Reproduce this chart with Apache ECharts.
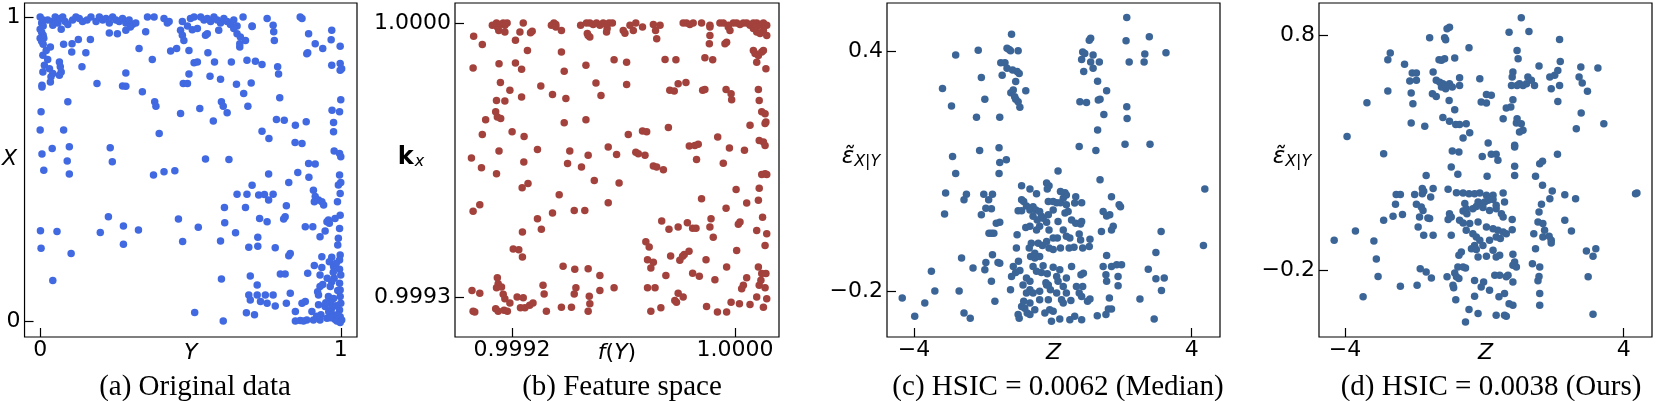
<!DOCTYPE html>
<html>
<head>
<meta charset="utf-8">
<title>HSIC scatter</title>
<script src="https://cdn.jsdelivr.net/npm/echarts@6/dist/echarts.min.js"></script>
<style>
  html, body { margin: 0; padding: 0; background: #fff; }
</style>
</head>
<body>
<div id="main" style="width: 1658px; height: 401px;"></div>
<script type="text/javascript">
// (a) original data: [Y, X]
var origData = [
  [0.0,1.0],[0.01,0.99],[0.005,0.98],[0.01,0.97],[0.0,0.96],[0.005,0.95],[0.01,0.94],[0.0,0.93],[0.012,0.93],[0.005,0.92],[0.01,0.91],
  [0.025,0.99],[0.042,0.985],[0.05,1.0],[0.059,0.98],[0.067,0.995],[0.075,1.0],[0.083,0.985],[0.092,0.975],[0.108,0.99],[0.119,1.0],
  [0.13,0.995],[0.141,0.985],[0.156,0.99],[0.169,1.0],[0.186,0.985],[0.197,1.0],[0.208,0.99],[0.219,0.995],[0.23,0.98],[0.241,1.0],
  [0.252,0.99],[0.263,0.985],[0.274,0.995],[0.285,0.98],[0.296,0.99],[0.307,0.975],[0.318,0.98],[0.357,1.0],[0.379,1.0],[0.412,0.995],
  [0.429,0.985],[0.473,0.985],[0.49,0.97],[0.5,0.995],[0.512,1.0],[0.534,1.0],[0.545,0.99],[0.556,0.995],[0.567,0.985],[0.578,1.0],
  [0.589,0.99],[0.6,0.98],[0.611,0.995],[0.622,0.985],[0.633,0.975],[0.644,0.99],[0.655,0.97],[0.675,1.0],[0.705,0.97],[0.755,0.995],
  [0.865,1.0],[0.871,0.995],
  [0.042,0.973],[0.07,0.96],[0.23,0.947],[0.257,0.945],[0.285,0.956],[0.3,0.967],[0.351,0.951],[0.423,0.98],[0.467,0.956],[0.473,0.94],
  [0.478,0.923],[0.506,0.958],[0.523,0.962],[0.55,0.94],[0.556,0.945],[0.594,0.956],[0.644,0.962],[0.655,0.945],[0.666,0.934],[0.683,0.923],
  [0.775,0.973],[0.777,0.951],[0.779,0.923],[0.893,0.945],[0.97,0.956],[0.968,0.925],[0.998,0.904],[0.915,0.912],[0.94,0.896],[0.887,0.879],
  [0.705,0.969],
  [0.009,0.874],[0.02,0.89],[0.034,0.901],[0.078,0.91],[0.106,0.912],[0.127,0.926],[0.167,0.926],[0.105,0.885],[0.152,0.882],[0.025,0.86],
  [0.014,0.841],[0.009,0.819],[0.031,0.83],[0.042,0.814],[0.036,0.803],[0.064,0.852],[0.067,0.836],[0.07,0.819],[0.064,0.808],[0.034,0.786],
  [0.006,0.775],[0.006,0.77],[0.139,0.836],[0.189,0.781],[0.285,0.816],[0.274,0.773],[0.285,0.772],[0.329,0.896],[0.373,0.86],[0.434,0.888],
  [0.454,0.896],[0.495,0.89],[0.512,0.849],[0.523,0.852],[0.495,0.812],[0.476,0.781],[0.49,0.781],[0.558,0.882],[0.58,0.852],[0.565,0.805],
  [0.6,0.795],[0.636,0.852],[0.664,0.901],[0.664,0.912],[0.688,0.858],[0.716,0.854],[0.738,0.844],[0.702,0.783],[0.653,0.779],[0.677,0.748],
  [0.79,0.836],[0.793,0.812],[0.89,0.882],[0.97,0.841],[0.998,0.847],[0.998,0.825],[1.003,0.83],[0.34,0.754],[0.381,0.721],[0.385,0.706],
  [0.467,0.682],[0.531,0.699],[0.603,0.721],[0.609,0.706],[0.622,0.685],[0.576,0.658],[0.691,0.706],[0.797,0.734],[1.0,0.728],[0.971,0.693],
  [0.996,0.688],[0.786,0.663],[0.812,0.66],[0.849,0.644],[0.885,0.655],[0.976,0.653],[0.976,0.622],[0.738,0.624],[0.761,0.6],[0.848,0.587],
  [0.871,0.584],[0.978,0.559],[0.996,0.551],[1.0,0.54],[0.003,0.688],[0.092,0.721],[0.0,0.628],[0.078,0.628],[0.006,0.549],[0.04,0.567],
  [0.097,0.573],[0.09,0.526],[0.012,0.496],[0.097,0.483],[0.233,0.57],[0.24,0.524],[0.396,0.617],[0.377,0.48],[0.412,0.491],[0.448,0.494],
  [0.55,0.533],[0.628,0.531],[0.76,0.483],[0.857,0.488],[0.827,0.455],[0.894,0.473],[0.893,0.518],[0.915,0.516],[0.996,0.48],[1.0,0.455],
  [0.992,0.447],[0.705,0.446],[0.655,0.417],[0.688,0.417],[0.727,0.414],[0.746,0.416],[0.775,0.417],[0.76,0.398],[0.909,0.43],[0.915,0.409],
  [0.912,0.392],[0.926,0.398],[0.937,0.392],[0.943,0.381],[0.989,0.392],[0.998,0.419],[0.819,0.379],[0.613,0.373],[0.683,0.373],[0.815,0.343],
  [0.81,0.335],[0.73,0.337],[0.755,0.326],[0.998,0.348],[0.981,0.337],[0.959,0.332],[0.954,0.326],[0.962,0.321],[0.948,0.296],[0.996,0.304],
  [0.992,0.272],[0.931,0.277],[0.882,0.31],[0.907,0.31],[0.227,0.343],[0.46,0.335],[0.526,0.308],[0.614,0.323],[0.65,0.29],[0.001,0.297],
  [0.056,0.294],[0.2,0.291],[0.277,0.312],[0.327,0.299],[0.277,0.252],[0.474,0.261],[0.6,0.263],[0.724,0.275],[0.694,0.242],[0.724,0.246],
  [0.782,0.241],[0.003,0.239],[0.103,0.222],[0.832,0.222],[0.827,0.214],[0.937,0.211],[0.97,0.209],[0.962,0.195],[0.998,0.217],[0.996,0.2],
  [0.912,0.182],[0.937,0.176],[0.976,0.179],[0.996,0.17],[1.0,0.151],[0.978,0.14],[0.97,0.129],[0.996,0.124],[0.998,0.102],[0.965,0.113],
  [0.931,0.113],[0.923,0.096],[0.926,0.085],[0.959,0.08],[0.976,0.074],[0.967,0.06],[0.998,0.08],[1.0,0.058],[0.996,0.036],[0.97,0.042],
  [0.948,0.047],[0.926,0.053],[0.904,0.031],[0.934,0.02],[0.976,0.02],[0.998,0.014],[1.003,0.003],[0.987,0.0],[0.954,0.009],[0.931,0.003],
  [0.909,0.003],[0.887,0.003],[0.865,0.001],[0.849,0.0],[0.876,0.0],[0.998,-0.005],[0.89,0.157],[0.799,0.154],[0.815,0.154],[0.699,0.148],
  [0.722,0.118],[0.603,0.138],[0.042,0.133],[0.694,0.085],[0.722,0.085],[0.749,0.085],[0.775,0.085],[0.699,0.069],[0.733,0.064],[0.755,0.058],
  [0.782,0.049],[0.819,0.058],[0.832,0.091],[0.871,0.058],[0.882,0.064],[0.849,0.031],[0.686,0.027],[0.713,0.02],[0.514,0.028],[0.609,0.0],
  [0.931,0.151],[0.95,0.06],[0.96,0.03],[0.985,0.05],[0.99,0.1],[0.975,0.16],[0.985,0.19],[0.99,0.25],[0.94,0.12],[0.955,0.14],
  [0.98,0.005],[0.965,0.01],[0.92,0.015],[0.99,0.02]
];

// (b) feature space: [f(Y), k_x]
var featureData = [
  [0.999129,0.999994],[0.999144,1.0],[0.999156,0.999996],[0.999168,1.0],[0.999174,0.999994],[0.999182,1.0],[0.99924,1.0],[0.999341,0.999994],
  [0.99935,1.0],[0.999357,0.999996],[0.999446,0.999994],[0.999467,1.0],[0.999479,1.0],[0.999491,0.999996],[0.999503,1.0],[0.999515,0.999994],
  [0.999527,1.0],[0.999539,0.999996],[0.999548,1.0],[0.99956,1.0],[0.999623,0.999994],[0.999644,1.0],[0.999707,0.999996],[0.999731,0.999994],
  [0.999814,1.0],[0.999826,1.0],[0.999838,0.999996],[0.99985,1.0],[0.99988,1.0],[0.99991,0.999994],[0.999946,1.0],[0.999958,1.0],
  [0.999976,0.999994],[0.999994,1.0],[1.000006,1.0],[1.000018,0.999996],[1.00003,1.0],[1.000042,1.0],[1.000054,0.999994],[1.000066,1.0],
  [1.000078,1.0],[1.00009,0.999996],[1.000102,1.0],[1.000114,0.999994],
  [0.999147,0.99999],[0.999152,0.999981],[0.999174,0.999977],[0.999228,0.999977],[0.999272,0.999979],[0.999266,0.999975],[0.999357,0.99999],
  [0.999377,0.999981],[0.999473,0.999968],[0.999479,0.999964],[0.99947,0.999973],[0.999539,0.999977],[0.999541,0.999986],[0.999599,0.999981],
  [0.999605,0.999974],[0.999635,0.999981],[0.999668,0.99999],[0.999715,0.999981],[0.999719,0.99996],[0.99991,0.99999],[0.99991,0.999968],
  [0.999976,0.99999],[0.999982,0.999981],[1.000066,0.999986],[1.000078,0.999977],[1.00009,0.999973],[1.000102,0.999981],[1.000114,0.999968],
  [1.000078,0.99999],[0.999062,0.999966],[0.999093,0.999945],[0.999212,0.999956],[0.999255,0.99993],[0.999377,0.999926],[0.999908,0.999947],
  [0.99997,0.999951],[0.999964,0.999947],[1.000066,0.99993],[1.000096,0.999926],[1.000072,0.999922],[1.000084,0.999917],[1.000102,0.99993],
  [0.99906,0.999885],[0.999153,0.999896],[0.999212,0.999898],[0.999234,0.999882],[0.999387,0.999877],[0.999465,0.999892],[0.999566,0.999906],
  [0.999611,0.9999],[0.999749,0.999907],[0.999788,0.999906],[0.999892,0.999911],[0.99992,0.999906],[1.000078,0.9999],[1.000111,0.999883],
  [0.999158,0.999848],[0.999192,0.999828],[0.999144,0.999802],[0.999174,0.999801],[0.999234,0.999811],[0.999303,0.999839],[0.999345,0.999817],
  [0.999393,0.999807],[0.999501,0.999847],[0.999519,0.999815],[0.999611,0.999843],[0.999766,0.999828],[0.999782,0.999826],[0.999796,0.999845],
  [0.999824,0.999848],[0.999884,0.999828],[0.999892,0.99983],[0.999968,0.99983],[0.999986,0.999819],[0.999988,0.999804],[1.000084,0.99983],
  [1.000087,0.999802],[1.000108,0.999768],[1.000108,0.999743],[1.000096,0.999773],[1.000111,0.999747],[0.999141,0.999773],[0.999147,0.99976],
  [0.999159,0.999756],[0.999105,0.999753],[0.999093,0.999715],[0.9992,0.999722],[0.999243,0.99971],[0.999387,0.999745],[0.999465,0.999753],
  [0.999617,0.999715],[0.999668,0.999724],[0.999683,0.999722],[0.999761,0.999733],[1.000054,0.999739],[0.999938,0.999709],
  [0.999054,0.999655],[0.99909,0.99963],[0.999144,0.999615],[0.999153,0.999673],[0.999242,0.999645],[0.999291,0.999677],[0.999236,0.999579],
  [0.999257,0.99959],[0.999369,0.999561],[0.999399,0.999641],[0.999407,0.999673],[0.999449,0.999632],[0.999473,0.999662],[0.999495,0.999598],
  [0.999545,0.999683],[0.999575,0.999664],[0.999584,0.999591],[0.999644,0.99967],[0.999653,0.999666],[0.999677,0.999662],[0.999707,0.999635],
  [0.999719,0.999632],[0.999743,0.999625],[0.999836,0.999686],[0.999856,0.999687],[0.999868,0.99969],[0.999862,0.999651],[0.999958,0.999642],
  [0.99998,0.999681],[1.000034,0.999675],[1.000087,0.9997],[1.000102,0.999696],[1.000108,0.999687],[1.000108,0.999615],[1.000096,0.999613],
  [1.000114,0.999613],[1.000087,0.999578],[1.000004,0.999575],[1.000084,0.999547],[0.99988,0.999551],[0.999968,0.999527],[1.000042,0.99954],
  [1.000099,0.999504],[0.999914,0.9995],[0.99991,0.999479],[0.999922,0.999453],[1.000018,0.999492],[1.000012,0.999486],[1.000078,0.99947],
  [1.000114,0.999462],[1.000108,0.999432],[0.99906,0.999519],[0.999084,0.999536],[0.999345,0.999515],[0.999291,0.9995],[0.999305,0.999473],
  [0.999237,0.999466],[0.999423,0.999521],[0.999461,0.999521],[0.999545,0.999541],[0.999737,0.999494],[0.999763,0.999473],[0.999796,0.999479],
  [0.999829,0.99949],[0.999848,0.999476],[0.99986,0.999476],
  [0.999896,0.999395],[0.999928,0.999344],[0.99997,0.999377],[1.000006,0.999419],[1.000042,0.999349],[1.00003,0.99933],[1.000024,0.999321],
  [1.000087,0.99933],[1.000093,0.999343],[1.000084,0.999377],[1.000096,0.99936],[1.000111,0.99936],[1.000108,0.999324],[1.000114,0.999296],
  [1.000102,0.999274],[1.000078,0.9993],[1.000054,0.999281],[1.000016,0.999283],[0.999986,0.999287],[0.99997,0.999262],[0.999937,0.999262],
  [0.999898,0.999276],[0.999872,0.999353],[0.999848,0.999361],[0.999796,0.99931],[0.999784,0.999291],[0.999814,0.9993],[0.99979,0.999287],
  [0.999752,0.999355],[0.999802,0.999394],[0.999818,0.999409],[0.999812,0.999404],[0.999769,0.999405],[0.999707,0.999389],[0.999686,0.999395],
  [0.99968,0.999441],[0.999692,0.999428],[0.999698,0.999374],[0.999686,0.999324],[0.999713,0.999324],[0.999734,0.999273],[0.999698,0.999264],
  [0.999835,0.999417],[0.999204,0.999423],[0.999224,0.999421],[0.999237,0.999402],[0.999147,0.999349],[0.99915,0.999334],[0.999144,0.999324],
  [0.999162,0.999326],[0.999168,0.999307],[0.999141,0.99927],[0.99915,0.999264],[0.999171,0.999266],[0.999183,0.999264],[0.999192,0.999285],
  [0.999218,0.9993],[0.99924,0.999298],[0.99923,0.999273],[0.999246,0.999273],[0.999263,0.999279],[0.999275,0.999285],[0.999311,0.99933],
  [0.999315,0.999308],[0.999323,0.999264],[0.999377,0.999274],[0.999383,0.999379],[0.999425,0.999371],[0.999473,0.999372],[0.999515,0.999355],
  [0.999566,0.999324],[0.999515,0.999317],[0.999429,0.999324],[0.999423,0.999308],[0.999413,0.999274],[0.999477,0.999302],[0.999479,0.999283],
  [0.999473,0.999264],[0.999056,0.999317],[0.999084,0.99931],[0.99906,0.999264],[0.999066,0.999262],[0.999174,0.999296]
];

// (c) residuals, median bandwidth: [Z, eps]
var medianData = [
  [-2.80,0.390],[-2.15,0.402],[-2.06,0.334],[-1.96,0.280],[-2.20,0.235],[-3.18,0.307],[-2.92,0.263],[-1.53,0.235],[-1.19,0.442],[-1.32,0.407],
  [-1.26,0.404],[-1.22,0.401],[-1.00,0.401],[-1.50,0.371],[-1.38,0.371],[-1.46,0.340],[-1.32,0.357],[-1.16,0.353],[-1.03,0.349],[-0.97,0.344],
  [-1.07,0.324],[-1.14,0.303],[-1.21,0.296],[-0.78,0.301],[-1.07,0.280],[-1.00,0.274],[-0.95,0.260],[-1.10,0.286],
  [1.09,0.432],[1.05,0.427],[0.86,0.398],[0.92,0.394],[1.16,0.390],[0.83,0.379],[1.09,0.373],[1.16,0.357],[1.34,0.373],[0.89,0.349],
  [1.29,0.325],[0.78,0.274],[0.97,0.272],[1.31,0.278],[1.36,0.280],[1.55,0.301],[1.47,0.242],[1.29,0.203],[1.24,0.152],[0.76,0.162],
  [2.13,0.484],[2.11,0.426],[2.20,0.373],[2.78,0.436],[2.65,0.393],[2.63,0.373],[3.26,0.396],[2.13,0.261],[2.14,0.232],[2.08,0.168],
  [2.80,0.168],
  [-2.11,0.152],[-1.55,0.159],[-1.53,0.122],[-1.34,0.129],[-2.89,0.137],[-1.55,0.095],[-2.80,0.095],[-3.09,0.046],[-3.12,-0.006],[-2.49,0.043],
  [-2.56,0.029],[-1.99,0.043],[-1.74,0.043],[-1.85,0.029],[-1.93,0.008],[-2.06,-0.008],[-1.77,0.007],[-1.63,-0.029],[-1.53,-0.027],[-1.77,-0.054],
  [-1.84,-0.054],[-1.70,-0.054],[0.15,0.101],[1.36,0.079],[4.38,0.056],[3.12,-0.050],[4.34,-0.085],
  [-0.90,0.064],[-0.66,0.056],[-0.18,0.071],[-0.11,0.064],[-0.16,0.056],[-0.47,0.044],[0.22,0.050],[0.35,0.047],[0.39,0.041],[0.30,0.033],
  [0.22,0.022],[0.11,0.022],[0.01,0.025],[-0.13,0.025],[0.66,0.037],[0.83,0.022],[0.63,0.021],[-0.90,0.029],[-0.84,0.025],[-0.76,0.014],
  [-0.66,0.004],[-0.57,0.012],[-0.49,0.004],[-0.38,0.000],[-0.33,-0.012],[-0.57,-0.012],[-0.45,-0.021],[-0.28,-0.017],[-0.13,-0.008],[0.01,0.004],
  [0.39,0.017],[0.44,0.000],[0.35,-0.004],[-1.00,0.002],[-0.90,0.002],[-0.18,-0.027],[-0.11,-0.046],[-0.38,-0.037],[-0.47,-0.046],[-0.66,-0.037],
  [-0.78,-0.040],[-1.03,-0.058],[0.54,-0.021],[0.66,-0.029],[0.80,-0.031],[0.83,-0.025],[0.15,-0.025],[0.30,-0.046],[0.49,-0.066],[0.39,-0.062],
  [0.13,-0.066],[0.01,-0.066],[-0.18,-0.075],[-0.30,-0.085],[-0.42,-0.079],[-0.62,-0.079],[-0.68,-0.091],[-0.52,-0.104],[-0.64,-0.112],[-0.52,-0.116],
  [-0.38,-0.112],[-0.11,-0.091],[0.01,-0.095],[0.22,-0.091],[0.47,-0.091],[0.61,-0.089],[0.76,-0.056],[0.80,-0.071],[0.86,-0.091],[1.05,-0.087],
  [-1.05,-0.091],[-0.99,-0.124],[-1.14,-0.137],[-1.19,-0.162],[-1.07,-0.152],[-0.95,-0.147],[-0.57,-0.137],[-0.47,-0.149],[-0.33,-0.152],[-0.16,-0.155],
  [0.01,-0.139],[0.11,-0.162],[0.20,-0.145],[0.39,-0.166],[0.54,-0.137],[0.81,-0.158],[0.88,-0.154],[-0.76,-0.166],[-0.66,-0.174],[-0.86,-0.183],
  [-0.66,-0.195],[-0.76,-0.203],[-0.57,-0.203],[-0.38,-0.199],[-0.20,-0.178],[-0.13,-0.183],[-0.07,-0.195],[0.11,-0.203],[0.30,-0.187],[0.39,-0.203],
  [0.52,-0.222],[0.68,-0.187],[0.76,-0.203],[0.83,-0.212],[1.00,-0.224],[-0.38,-0.220],[-0.13,-0.220],[0.25,-0.220],[0.30,-0.228],[0.01,-0.249],
  [-0.23,-0.253],[-0.52,-0.245],[-0.66,-0.228],[-0.84,-0.224],[-0.90,-0.237],[-0.81,-0.241],[-0.74,-0.253],[-0.66,-0.257],[-1.00,-0.257],[-0.97,-0.266],
  [-0.04,-0.274],[0.20,-0.268],[0.49,-0.270],[0.63,-0.261],[0.83,-0.270],[1.07,-0.218],[-0.09,-0.245],[-0.18,-0.183],[0.15,-0.174],[-0.28,-0.135],
  [1.69,0.037],[1.91,0.017],[1.95,0.012],[1.45,0.000],[1.55,-0.011],[1.64,-0.008],[1.74,-0.037],[1.69,-0.046],[1.40,-0.050],[1.07,-0.069],
  [1.55,-0.110],[1.84,-0.133],[1.98,-0.133],[1.45,-0.137],[1.53,-0.158],[1.69,-0.137],[1.88,-0.162],[1.88,-0.185],[1.55,-0.174],[1.63,-0.216],
  [1.60,-0.243],[1.69,-0.243],[1.53,-0.257],[1.28,-0.260],[0.86,-0.187],[2.97,-0.102],[2.75,-0.144],[2.97,-0.168],[3.21,-0.166],[3.13,-0.197],
  [2.51,-0.218],[2.92,-0.268],
  [-2.63,-0.116],[-2.30,-0.141],[-1.93,-0.127],[-1.96,-0.145],[-1.77,-0.174],[-1.58,-0.127],[-1.53,-0.129],[-1.74,-0.108],[-3.40,-0.198],[-3.50,-0.149],
  [-3.69,-0.228],[-3.98,-0.261],[-4.34,-0.216],[-2.70,-0.198],[-2.56,-0.253],[-2.38,-0.266],[-1.67,-0.224],[-1.22,-0.195]
];

// (d) residuals, our bandwidth: [Z, eps]
var oursData = [
  [1.06,0.875],[1.28,0.817],[0.71,0.814],[-1.00,0.835],[-1.07,0.828],[-1.14,0.790],[-1.11,0.782],[-1.57,0.790],[-0.44,0.748],[2.16,0.783],
  [0.94,0.736],[0.97,0.701],[-2.70,0.725],[-2.77,0.696],[-1.30,0.696],[-1.23,0.694],[-0.85,0.704],[-1.14,0.701],[2.18,0.689],[1.57,0.670],
  [2.77,0.665],[3.26,0.661],[-2.29,0.677],[-2.07,0.640],[-1.95,0.640],[-1.47,0.644],[-1.49,0.552],[-1.38,0.540],[-2.14,0.606],[-1.95,0.609],
  [-2.10,0.555],[-2.05,0.509],[-2.77,0.563],[-3.37,0.513],[-1.38,0.609],[-1.28,0.601],[-1.19,0.594],[-1.09,0.587],[-1.00,0.594],[-0.92,0.580],
  [-1.11,0.573],[-1.23,0.580],[-0.71,0.587],[-0.71,0.620],[-0.13,0.616],[0.82,0.644],[0.80,0.623],[0.78,0.587],[0.94,0.587],[1.11,0.587],
  [1.25,0.623],[1.35,0.609],[1.44,0.587],[1.21,0.594],[1.01,0.594],[1.88,0.623],[1.92,0.573],[2.02,0.630],[2.11,0.651],[2.16,0.587],
  [2.72,0.623],[2.81,0.597],[2.96,0.562],[2.11,0.519],[0.06,0.548],[0.20,0.545],[-0.09,0.516],[0.06,0.512],[0.82,0.526],[0.63,0.491],
  [0.76,0.495],[-1.01,0.523],[-0.85,0.484],[-1.19,0.450],[-1.00,0.435],[-0.82,0.421],[-0.71,0.421],[-0.52,0.424],[2.78,0.470],[3.43,0.424],
  [2.64,0.403],[-2.10,0.427],[-1.71,0.413],[-3.94,0.370],[-2.89,0.296],[-0.42,0.386],[-0.61,0.363],[0.11,0.342],[0.54,0.445],[0.94,0.445],
  [0.92,0.427],[1.06,0.424],[1.11,0.396],[1.01,0.389],[0.87,0.325],[0.87,0.332],[-0.92,0.308],[-0.73,0.304],[0.20,0.294],[0.34,0.294],
  [-0.06,0.285],[0.39,0.268],[2.10,0.294],[1.67,0.264],[1.59,0.254],[-0.95,0.240],[-0.76,0.209],[0.87,0.243],[0.87,0.204],[1.47,0.200],
  [1.67,0.162],[-1.67,0.204],[0.08,0.200],[-1.78,0.148],[-1.47,0.148],[-1.04,0.145],[4.34,0.126],[4.38,0.129],
  [-2.53,0.123],[-2.41,0.123],[-2.55,0.081],[-2.00,0.123],[-1.74,0.136],[-1.78,0.126],[-1.54,0.112],[-1.95,0.081],[-1.81,0.070],[-1.76,0.055],
  [-1.86,0.027],[-1.57,0.020],[-1.62,0.023],[-2.62,0.030],[-2.35,0.038],[-2.89,0.013],[-1.90,-0.016],[-1.74,-0.051],[-1.47,-0.051],[-0.80,0.130],
  [-0.61,0.129],[-0.44,0.126],[-0.28,0.126],[-0.13,0.129],[0.06,0.119],[0.25,0.119],[0.54,0.129],[-0.56,0.084],[-0.18,0.091],[-0.09,0.084],
  [0.01,0.091],[0.11,0.098],[0.25,0.101],[0.34,0.077],[0.58,0.091],[-0.52,0.062],[-0.61,0.052],[-0.50,0.041],[-0.33,0.062],[-0.23,0.072],
  [-0.04,0.067],[0.15,0.055],[0.34,0.062],[0.49,0.041],[0.54,0.027],[-1.00,0.041],[-0.95,0.027],[-1.04,0.016],[-0.71,0.013],[-0.61,0.001],
  [-0.42,-0.001],[-0.18,0.006],[0.06,-0.016],[0.25,-0.023],[0.39,-0.030],[0.54,-0.037],[0.63,-0.044],[0.80,0.016],[0.80,-0.027],[-0.52,-0.030],
  [-0.33,-0.044],[-0.23,-0.058],[-0.13,-0.072],[-0.28,-0.094],[-0.37,-0.108],[-0.23,-0.112],[-0.04,-0.094],[0.15,-0.072],[0.34,-0.058],[0.46,-0.065],
  [-0.95,-0.051],[-0.73,-0.136],[-0.66,-0.122],[-0.18,-0.143],[0.06,-0.140],[0.25,-0.115],[0.34,-0.143],[0.44,-0.136],[0.82,-0.132],[0.87,-0.165],
  [0.92,-0.186],[0.82,-0.179],[1.38,-0.172],[1.59,-0.186],[1.47,-0.108],[1.42,-0.044],[1.68,-0.058],[1.86,-0.055],[1.92,-0.072],[1.92,-0.084],
  [1.54,0.006],[1.68,-0.001],[1.73,-0.030],[1.57,0.048],[1.64,0.081],[1.88,0.105],[1.95,0.138],[2.31,0.122],[2.62,0.105],[2.31,0.013],
  [2.50,-0.033],[-3.70,-0.033],[-4.31,-0.072],[-3.17,-0.075],[-3.10,-0.152],[-3.05,-0.226],[-3.48,-0.313],[-2.41,-0.268],[-1.93,-0.264],[-1.84,-0.193],
  [-1.67,-0.207],[-1.52,-0.233],[-1.07,-0.228],[-0.85,-0.211],[-0.76,-0.186],[-0.61,-0.186],[-0.54,-0.190],[-0.80,-0.228],[-0.73,-0.235],[-0.90,-0.264],
  [-0.88,-0.274],[-0.28,-0.243],[-0.02,-0.250],[-0.09,-0.271],[0.15,-0.285],[0.30,-0.221],[0.44,-0.221],[0.63,-0.228],[0.68,-0.221],[0.82,-0.250],
  [0.42,-0.313],[0.58,-0.299],[0.71,-0.342],[0.82,-0.349],[-0.44,-0.367],[-0.18,-0.384],[0.34,-0.391],[0.58,-0.391],[0.63,-0.396],[-0.54,-0.420],
  [-0.82,-0.325],[-0.28,-0.311],[1.57,-0.226],[1.54,-0.245],[1.59,-0.299],[1.59,-0.349],[2.93,-0.118],[3.20,-0.108],[3.12,-0.140],[2.98,-0.228],
  [3.12,-0.387]
];

// tick values and their labels
var aTicks = [0, 1],            aTickLabels = ['0', '1'];
var bTicksX = [0.9992, 1.0],    bTickLabelsX = ['0.9992', '1.0000'];
var bTicksY = [0.9993, 1.0],    bTickLabelsY = ['0.9993', '1.0000'];
var zTicks = [-4, 4],           zTickLabels = ['\u22124', '4'];
var cTicksY = [-0.2, 0.4],      cTickLabelsY = ['\u22120.2', '0.4'];
var dTicksY = [-0.2, 0.8],      dTickLabelsY = ['\u22120.2', '0.8'];

var captions = ['(a) Original data', '(b) Feature space', '(c) HSIC = 0.0062 (Median)', '(d) HSIC = 0.0038 (Ours)'];

var myChart = echarts.init(document.getElementById('main'));

var FONT = 'DejaVu Sans';
var FS = 22;

function pick(ticks, labels) {
  return function (v) {
    var best = 0;
    for (var i = 1; i < ticks.length; i++) {
      if (Math.abs(ticks[i] - v) < Math.abs(ticks[best] - v)) best = i;
    }
    return labels[best];
  };
}

function xAxisOf(idx, min, max, ticks, labels, name, rich) {
  return {
    type: 'value', gridIndex: idx, min: min, max: max,
    splitLine: { show: false },
    axisLine: { show: false, onZero: false },
    axisTick: { show: true, inside: true, length: 9, customValues: ticks, lineStyle: { color: '#000', width: 1.2 } },
    axisLabel: { customValues: ticks, formatter: pick(ticks, labels), margin: 2, fontSize: FS, fontFamily: FONT, color: '#000' },
    name: name, nameLocation: 'middle', nameGap: 5, nameMoveOverlap: false,
    nameTextStyle: { fontSize: FS, fontFamily: FONT, color: '#000', fontStyle: 'italic', verticalAlign: 'top', rich: rich }
  };
}

function yAxisOf(idx, min, max, ticks, labels, name, gap, rich) {
  return {
    type: 'value', gridIndex: idx, min: min, max: max,
    splitLine: { show: false },
    axisLine: { show: false, onZero: false },
    axisTick: { show: true, inside: true, length: 9, customValues: ticks, lineStyle: { color: '#000', width: 1.2 } },
    axisLabel: { customValues: ticks, formatter: pick(ticks, labels), margin: 4, fontSize: FS, fontFamily: FONT, color: '#000' },
    name: name, nameLocation: 'middle', nameRotate: 0, nameGap: gap, nameMoveOverlap: false,
    nameTextStyle: { fontSize: FS, fontFamily: FONT, color: '#000', fontStyle: 'italic', align: 'center', verticalAlign: 'bottom', rich: rich }
  };
}

var epsRich = {
  e: { fontSize: 23, fontFamily: FONT, fontStyle: 'italic', color: '#000' },
  s: { fontSize: 16, fontFamily: FONT, fontStyle: 'italic', color: '#000', verticalAlign: 'bottom', padding: [9, 0, 0, 0] }
};
var kRich = {
  k: { fontSize: 24, fontFamily: FONT, fontWeight: 'bold', fontStyle: 'normal', color: '#000' },
  s: { fontSize: 16, fontFamily: FONT, fontStyle: 'italic', color: '#000', padding: [9, 0, 0, 1] }
};
var fRich = {
  i: { fontSize: FS, fontFamily: FONT, fontStyle: 'italic', color: '#000' },
  n: { fontSize: FS, fontFamily: FONT, fontStyle: 'normal', color: '#000' }
};

var grids = [
  { left: 23, top: 3, width: 334, height: 334 },
  { left: 455, top: 3, width: 324, height: 334 },
  { left: 887, top: 3, width: 333, height: 334 },
  { left: 1319, top: 3, width: 333, height: 334 }
].map(function (g) {
  g.show = true; g.borderColor = '#000'; g.borderWidth = 1.2; g.backgroundColor = 'transparent';
  return g;
});

var option = {
  backgroundColor: '#ffffff',
  animation: false,
  grid: grids,
  title: captions.map(function (t, i) {
    var centers = [190, 617, 1053, 1486];
    return {
      text: t, left: centers[i], top: 368, textAlign: 'center',
      textStyle: { fontFamily: 'Liberation Serif', fontSize: 29, fontWeight: 'normal', color: '#000' }
    };
  }),
  xAxis: [
    xAxisOf(0, -0.052, 1.054, aTicks, aTickLabels, 'Y'),
    xAxisOf(1, 0.998995, 1.000158, bTicksX, bTickLabelsX, '{i|f}{n|(}{i|Y}{n|)}', fRich),
    xAxisOf(2, -4.779, 4.817, zTicks, zTickLabels, 'Z'),
    xAxisOf(3, -4.746, 4.813, zTicks, zTickLabels, 'Z')
  ],
  yAxis: [
    yAxisOf(0, -0.053, 1.046, aTicks, aTickLabels, 'X', 15),
    yAxisOf(1, 0.999198, 1.000051, bTicksY, bTickLabelsY, '{k|k}{s|x}', 44, kRich),
    yAxisOf(2, -0.313, 0.520, cTicksY, cTickLabelsY, '{e|\u03b5\u0303}{s|X|Y}', 26, epsRich),
    yAxisOf(3, -0.484, 0.938, dTicksY, dTickLabelsY, '{e|\u03b5\u0303}{s|X|Y}', 27, epsRich)
  ],
  series: [
    { type: 'scatter', xAxisIndex: 0, yAxisIndex: 0, data: origData, symbolSize: 7.5, itemStyle: { color: '#4169e1', opacity: 1 } },
    { type: 'scatter', xAxisIndex: 1, yAxisIndex: 1, data: featureData, symbolSize: 7.5, itemStyle: { color: '#a3423c', opacity: 1 } },
    { type: 'scatter', xAxisIndex: 2, yAxisIndex: 2, data: medianData, symbolSize: 7.5, itemStyle: { color: '#3c6597', opacity: 1 } },
    { type: 'scatter', xAxisIndex: 3, yAxisIndex: 3, data: oursData, symbolSize: 7.5, itemStyle: { color: '#3c6597', opacity: 1 } }
  ]
};

myChart.setOption(option);
</script>
</body>
</html>
